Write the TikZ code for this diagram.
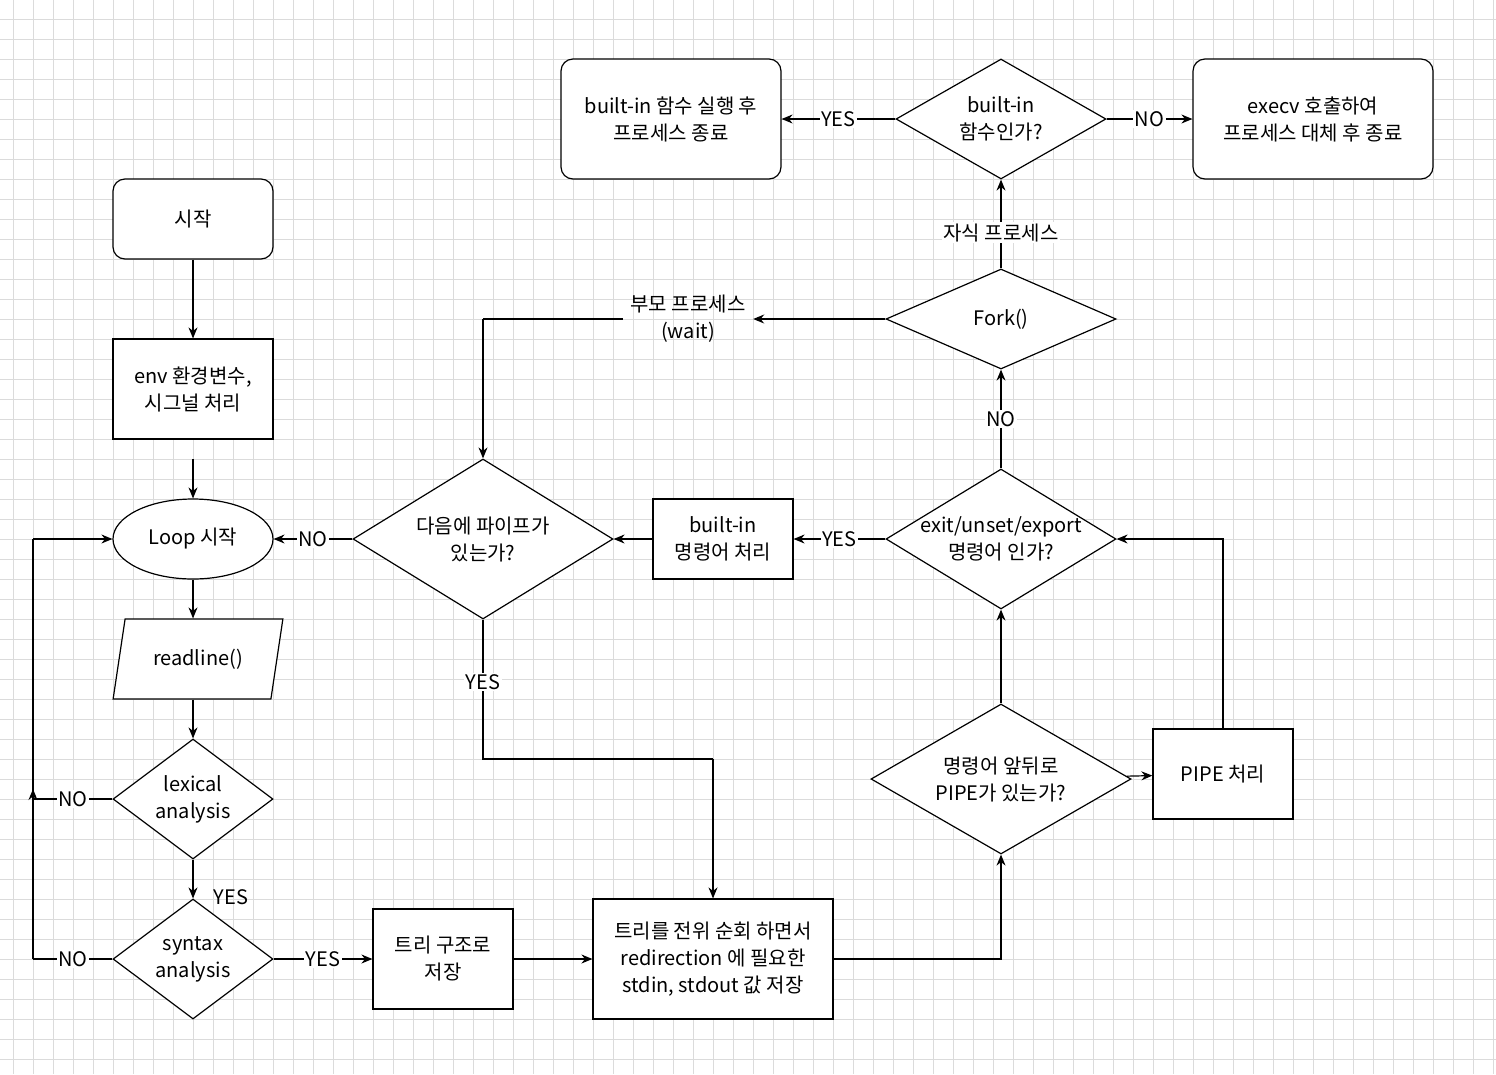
\documentclass[tikz,border=0pt]{standalone}
\usepackage{fontspec}
\setmainfont{Noto Sans CJK KR}
\usetikzlibrary{shapes.geometric,arrows.meta}
\begin{document}
\begin{tikzpicture}[x=1pt,y=-1pt,
  every node/.style={font=\fontsize{20}{27}\selectfont, align=center, inner sep=0pt},
  box/.style={draw, line width=1.2pt, minimum width=#1, fill=white},
  rbox/.style={draw, line width=1.2pt, rounded corners=12pt, fill=white},
  dia/.style={draw, diamond, line width=1.2pt, fill=white, aspect=1, label={center:#1}},
  lab/.style={fill=white, inner sep=1.5pt},
  arr/.style={draw, line width=1.2pt, -{Stealth[length=11pt,width=9pt]}},
  ln/.style={draw, line width=1.2pt}]
\useasboundingbox (0,0) rectangle (1496,1074);
\fill[white] (0,0) rectangle (1496,1074);
\foreach \x in {13,33,...,1493} \draw[black!14, line width=0.7pt] (\x,0) -- (\x,1074);
\foreach \y in {19,39,...,1073} \draw[black!14, line width=0.7pt] (0,\y) -- (1496,\y);

\node[rbox, minimum width=160pt, minimum height=80pt] (start) at (193,219) {시작};
\node[box=160pt, minimum height=100pt] (env) at (193,389) {env 환경변수,\\시그널 처리};
\node[draw, ellipse, line width=1.2pt, minimum width=160pt, minimum height=80pt, fill=white] (loop) at (193,539) {Loop 시작};
\node[draw, trapezium, trapezium left angle=70, trapezium right angle=110, line width=1.2pt, minimum width=170pt, minimum height=80pt, fill=white, trapezium stretches=true] (read) at (198,659) {readline()};
\node[dia={lexical\\analysis}, minimum width=160pt, minimum height=120pt] (lex) at (193,799) {};
\node[dia={syntax\\analysis}, minimum width=160pt, minimum height=120pt] (syn) at (193,959) {};
\node[box=140pt, minimum height=100pt] (tree) at (443,959) {트리 구조로\\저장};
\node[box=240pt, minimum height=120pt] (trav) at (713,959) {트리를 전위 순회 하면서\\redirection 에 필요한\\stdin, stdout 값 저장};
\node[dia={명령어 앞뒤로\\PIPE가 있는가?}, minimum width=260pt, minimum height=150pt] (pipeq) at (1001,779) {};
\node[box=140pt, minimum height=90pt] (pipe) at (1223,774) {PIPE 처리};
\node[dia={exit/unset/export\\명령어 인가?}, minimum width=230pt, minimum height=140pt] (exitq) at (1001,539) {};
\node[box=140pt, minimum height=80pt] (bcmd) at (723,539) {built-in\\명령어 처리};
\node[dia={다음에 파이프가\\있는가?}, minimum width=260pt, minimum height=160pt] (next) at (483,539) {};
\node[dia={Fork()}, minimum width=230pt, minimum height=100pt] (fork) at (1001,319) {};
\node[dia={built-in\\함수인가?}, minimum width=210pt, minimum height=120pt] (bq) at (1001,119) {};
\node[rbox, minimum width=220pt, minimum height=120pt] (bexec) at (671,119) {built-in 함수 실행 후\\프로세스 종료};
\node[rbox, minimum width=240pt, minimum height=120pt] (execv) at (1313,119) {execv 호출하여\\프로세스 대체 후 종료};
\node[minimum width=130pt] (parent) at (688,319) {부모 프로세스\\(wait)};
\coordinate (c1) at (33,799);
\coordinate (c2) at (33,539);
\coordinate (c3) at (33,959);
\coordinate (e1) at (193,459);

\path[arr] (start) -- (env);
\path[arr] (e1) -- (loop);
\path[arr] (loop.south) -- (loop.south |- read.north);
\path[arr] (read.south -| lex.north) -- (lex);
\path[arr] (lex) -- node[right, xshift=20pt, yshift=-18pt]{YES} (syn);
\path[ln] (lex.west) -- node[lab]{NO} (c1) -- (c2);
\path[arr] (c2) -- (loop.west);
\path[ln] (syn.west) -- node[lab]{NO} (c3);
\path[arr] (c3) -- ([yshift=10pt]c1);
\path[arr] (syn) -- node[lab]{YES} (tree);
\path[arr] (tree) -- (trav);
\path[arr] (trav.east) -| (pipeq.south);
\path[arr] (pipeq) -- (pipe);
\path[arr] (pipeq) -- (exitq);
\path[arr] (pipe.north) |- (exitq.east);
\path[arr] (exitq) -- node[lab]{YES} (bcmd);
\path[arr] (bcmd) -- (next);
\path[arr] (next) -- node[lab]{NO} (loop);
\path[ln] (next.south) -- node[lab, pos=0.45]{YES} (483,759) -- (713,759);
\path[arr] (713,759) -- (trav.north);
\path[arr] (exitq) -- node[lab]{NO} (fork);
\path[arr] (fork) -- node[lab, pos=0.4]{자식 프로세스} (bq);
\path[arr] (bq) -- node[lab]{YES} (bexec);
\path[arr] (bq) -- node[lab]{NO} (execv);
\path[arr] (fork.west) -- (parent.east);
\path[ln] (parent.west |- fork.west) -- (483,319);
\path[arr] (483,319) -- (next.north);
\end{tikzpicture}
\end{document}
